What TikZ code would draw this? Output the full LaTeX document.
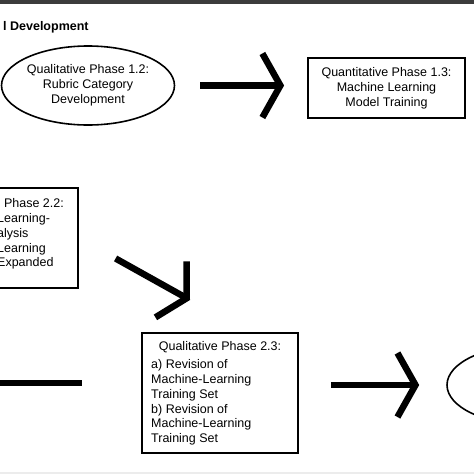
\documentclass[tikz,border=0pt]{standalone}
\usepackage{fontspec}
\setmainfont{Liberation Sans}
\usetikzlibrary{arrows.meta, shapes.geometric}
\definecolor{TopBar}{HTML}{3C3C3C}
\definecolor{BottomBar}{HTML}{ECECEC}

\begin{document}
\begin{tikzpicture}[x=1pt, y=-1pt,
    phase/.style={draw, line width=1.8pt, inner sep=0pt, align=center},
    oval/.style={ellipse, draw, line width=1.6pt, inner sep=0pt,
        minimum width=164pt, minimum height=79pt, align=center},
    arr/.style={-{Straight Barb[length=18pt, width=64pt]}, line width=6.5pt},
    shaft/.style={line width=6.5pt},
    every node/.style={font=\fontsize{12.5}{15}\selectfont}
]

\path[use as bounding box] (0,0) rectangle (474,474);
\clip (0,0) rectangle (474,474);
\fill[TopBar] (0,0) rectangle (474,4);
\fill[BottomBar] (0,472) rectangle (474,474);

\node[anchor=base west, inner sep=0pt, font=\fontsize{12.5}{15}\selectfont\bfseries]
    (title) at (3,30.5) {l Development};

% phase 1
\node[oval] (p12) at (88,85.5) {Qualitative Phase 1.2:\\Rubric Category\\Development};
\node[phase, minimum width=157pt, minimum height=60pt] (p13) at (386.5,88)
    {Quantitative Phase 1.3:\\Machine Learning\\Model Training};

% phase 2
\node[phase, minimum width=140pt, minimum height=100pt] (p22) at (8,238) {};
\node[anchor=base east, inner sep=0pt] (p22t) at (64,207.5) {Phase 2.2:};
\node[anchor=north west, align=left, inner sep=0pt, font=\fontsize{12.5}{14.7}\selectfont]
    (p22l) at (-3,213.5) {Learning-\\alysis\\Learning\\Expanded};

\node[phase, minimum width=156pt, minimum height=120pt] (p23) at (220,393) {};
\node (p23t) at (220,347) {Qualitative Phase 2.3:};
\node[anchor=north west, align=left, inner sep=0pt, font=\fontsize{12.5}{14.8}\selectfont]
    (p23l) at (151,359.5) {a) Revision of\\Machine-Learning\\Training Set\\b) Revision of\\Machine-Learning\\Training Set};

\node[oval] (p24) at (529,385) {};

\coordinate (a2) at (190,300);
\coordinate (s3) at (-10,383);

\draw[arr, shorten <=25pt, shorten >=23pt] (p12.east) -- (p12.east -| p13.west);
\draw[arr, shorten <=42pt] (p22.east) -- (a2);
\draw[shaft, shorten >=59pt] (s3) -- (s3 -| p23.west);
\draw[arr, shorten <=32pt, shorten >=27pt] (p24.west -| p23.east) -- (p24.west);

\end{tikzpicture}
\end{document}
